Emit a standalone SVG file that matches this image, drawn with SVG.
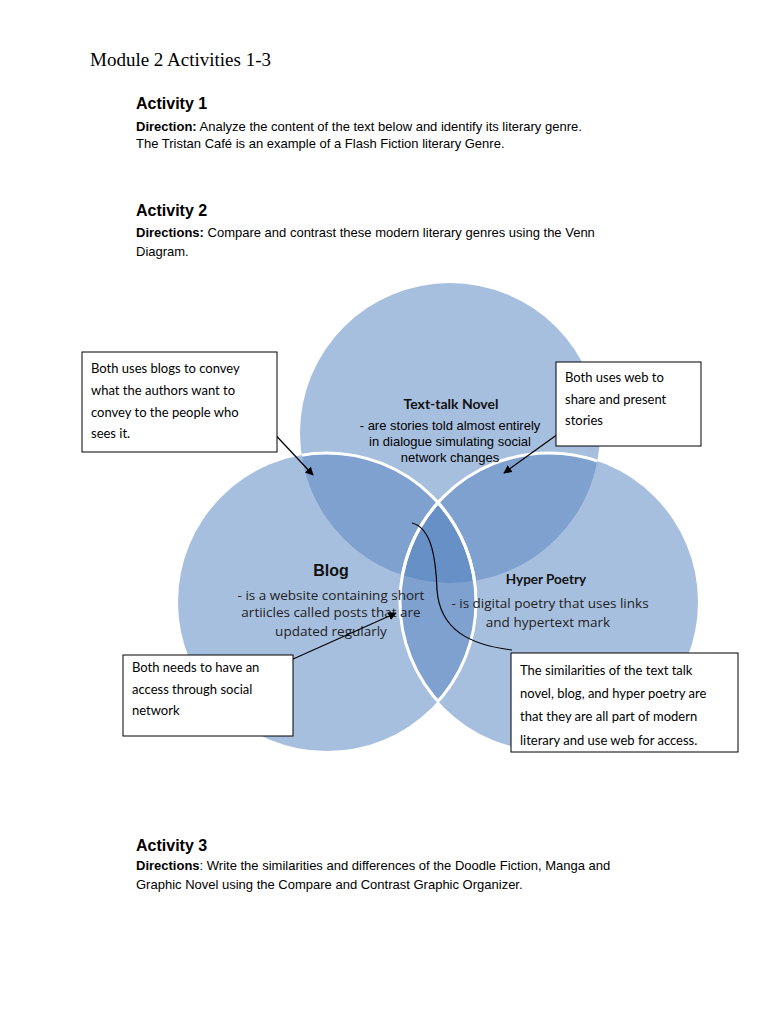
<svg xmlns="http://www.w3.org/2000/svg" width="768" height="1024" viewBox="0 0 768 1024">
<style>
.h{font-family:"Liberation Serif",serif;font-size:19px}
.t{font-family:"Liberation Sans",Arial,sans-serif;font-size:13px;fill:#000}
.b{font-family:"Liberation Sans",Arial,sans-serif;font-size:16px;font-weight:bold}
.c{font-family:Lato,"Open Sans",sans-serif;font-size:13px;fill:#000}
.v{font-family:"Open Sans",Lato,sans-serif;font-size:13.5px;fill:#222}
.box{fill:#fff;stroke:#000;stroke-width:1}
.ln{stroke:#000;stroke-width:1.2;fill:none}
</style>
<defs>
<marker id="ah" viewBox="0 0 10 10" refX="9" refY="5" markerWidth="7" markerHeight="7" orient="auto"><path d="M0,0L10,5L0,10z" fill="#000"/></marker>
<clipPath id="cT"><circle cx="450" cy="433" r="150"/></clipPath>
<clipPath id="cL"><circle cx="327" cy="602" r="149"/></clipPath>
<clipPath id="cR"><circle cx="549" cy="602" r="149"/></clipPath>
</defs>
<rect width="768" height="1024" fill="#fff"/>
<text class="h" x="90" y="66">Module 2 Activities 1-3</text>
<text class="b" x="136" y="109">Activity 1</text>
<text class="t" x="136" y="131"><tspan font-weight="bold">Direction:</tspan> Analyze the content of the text below and identify its literary genre.</text>
<text class="t" x="136" y="148">The Tristan Café is an example of a Flash Fiction literary Genre.</text>
<text class="b" x="136" y="216">Activity 2</text>
<text class="t" x="136" y="237"><tspan font-weight="bold">Directions:</tspan> Compare and contrast these modern literary genres using the Venn</text>
<text class="t" x="136" y="256">Diagram.</text>
<g id="venn">
<circle cx="450" cy="433" r="150" fill="#a7bfde"/>
<circle cx="327" cy="602" r="149" fill="#a7bfde"/>
<circle cx="549" cy="602" r="149" fill="#a7bfde"/>
<g clip-path="url(#cT)"><circle cx="327" cy="602" r="149" fill="#7fa1cf"/><circle cx="549" cy="602" r="149" fill="#7fa1cf"/></g>
<g clip-path="url(#cL)"><circle cx="549" cy="602" r="149" fill="#7fa1cf"/></g>
<g clip-path="url(#cT)"><g clip-path="url(#cL)"><circle cx="549" cy="602" r="149" fill="#6790c6"/></g></g>
<g fill="none" stroke="#fff" stroke-width="3">
<g clip-path="url(#cT)"><circle cx="327" cy="602" r="149"/><circle cx="549" cy="602" r="149"/></g>
<g clip-path="url(#cL)"><circle cx="549" cy="602" r="149"/></g>
<g clip-path="url(#cR)"><circle cx="327" cy="602" r="149"/></g>
</g>
</g>
<g id="labels">
<text x="451" y="409" text-anchor="middle" font-family="Lato,'Open Sans',sans-serif" font-size="14" font-weight="bold" fill="#111">Text-talk Novel</text>
<text class="t" font-size="14" x="450" y="430" text-anchor="middle" fill="#222">- are stories told almost entirely</text>
<text class="t" font-size="14" x="450" y="446" text-anchor="middle" fill="#222">in dialogue simulating social</text>
<text class="t" font-size="14" x="450" y="462" text-anchor="middle" fill="#222">network changes</text>
<text x="331" y="576" text-anchor="middle" font-family="Liberation Sans,Arial,sans-serif" font-size="16" font-weight="bold" fill="#111">Blog</text>
<text class="v" x="331" y="600" text-anchor="middle">- is a website containing short</text>
<text class="v" x="331" y="617" text-anchor="middle">artiicles called posts that are</text>
<text class="v" x="331" y="636" text-anchor="middle">updated regularly</text>
<text x="546" y="584" text-anchor="middle" font-family="Lato,'Open Sans',sans-serif" font-size="13.5" font-weight="bold" fill="#111">Hyper Poetry</text>
<text class="v" x="550" y="608" text-anchor="middle">- is digital poetry that uses links</text>
<text class="v" x="548" y="627" text-anchor="middle">and hypertext mark</text>
</g>
<g id="connectors">
<line class="ln" x1="268" y1="427" x2="313" y2="475" marker-end="url(#ah)"/>
<line class="ln" x1="558" y1="434" x2="504" y2="473" marker-end="url(#ah)"/>
<line class="ln" x1="273" y1="668" x2="396" y2="613" marker-end="url(#ah)"/>
<path class="ln" d="M412,523 C432,528 436,560 437,590 C440,630 470,645 512,650"/>
</g>
<g id="box1"><rect class="box" x="82" y="352" width="195" height="100"/>
<text class="c" x="91" y="373">Both uses blogs to convey</text><text class="c" x="91" y="395">what the authors want to</text><text class="c" x="91" y="417">convey to the people who</text><text class="c" x="91" y="438">sees it.</text></g>
<g id="box2"><rect class="box" x="556" y="362" width="145" height="84"/>
<text class="c" x="565" y="382">Both uses web to</text><text class="c" x="565" y="404">share and present</text><text class="c" x="565" y="425">stories</text></g>
<g id="box3"><rect class="box" x="123" y="655" width="170" height="81"/>
<text class="c" x="132" y="672">Both needs to have an</text><text class="c" x="132" y="694">access through social</text><text class="c" x="132" y="715">network</text></g>
<g id="box4"><rect class="box" x="511" y="653" width="227" height="99"/>
<text class="c" x="520" y="675">The similarities of the text talk</text><text class="c" x="520" y="698">novel, blog, and hyper poetry are</text><text class="c" x="520" y="721">that they are all part of modern</text><text class="c" x="520" y="745">literary and use web for access.</text></g>
<text class="b" x="136" y="851">Activity 3</text>
<text class="t" x="136" y="870"><tspan font-weight="bold">Directions</tspan>: Write the similarities and differences of the Doodle Fiction, Manga and</text>
<text class="t" x="136" y="889">Graphic Novel using the Compare and Contrast Graphic Organizer.</text>
</svg>
